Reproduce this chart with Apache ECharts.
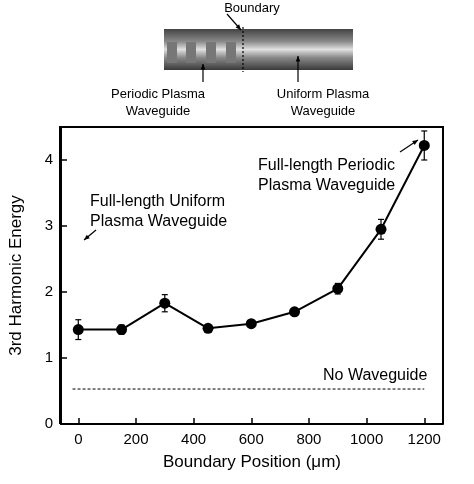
<!DOCTYPE html>
<html><head><meta charset="utf-8">
<script src="https://cdn.jsdelivr.net/npm/echarts@6/dist/echarts.min.js"></script>
<style>html,body{margin:0;background:#fff}#c{width:474px;height:484px}</style>
</head><body><div id="c"></div>
<script>
var positions = [0, 150, 300, 450, 600, 750, 900, 1050, 1200];
var energy = [1.43, 1.43, 1.83, 1.45, 1.52, 1.70, 2.05, 2.95, 4.22];
var errs = [0.15, 0.07, 0.13, 0.04, 0.05, 0.04, 0.08, 0.15, 0.22];
var xTicks = [0, 200, 400, 600, 800, 1000, 1200];
var noWaveguide = 0.53;
var font = 'Liberation Sans';

var chart = echarts.init(document.getElementById('c'));
var tubeGrad = new echarts.graphic.LinearGradient(0, 0, 0, 1, [
  {offset: 0, color: '#444'}, {offset: 0.3, color: '#888'},
  {offset: 0.5, color: '#e0e0e0'}, {offset: 0.7, color: '#888'}, {offset: 1, color: '#3a3a3a'}]);
var squares = [167, 186, 206, 226].map(function (x) {
  return {type: 'rect', shape: {x: x, y: 42, width: 10, height: 21}, style: {fill: '#777'}, z: 101};
});
function arrow(x1, y1, x2, y2) {
  var a = Math.atan2(y2 - y1, x2 - x1), s = 6;
  return [
    {type: 'line', shape: {x1: x1, y1: y1, x2: x2, y2: y2}, style: {stroke: '#000', lineWidth: 1.2}, z: 102},
    {type: 'polygon', shape: {points: [[x2, y2],
      [x2 - s * Math.cos(a - 0.4), y2 - s * Math.sin(a - 0.4)],
      [x2 - s * Math.cos(a + 0.4), y2 - s * Math.sin(a + 0.4)]]}, style: {fill: '#000'}, z: 102}];
}
function txt(x, y, t, size, align) {
  return {type: 'text', x: x, y: y, style: {text: t, font: size + 'px ' + font, fill: '#000', align: align || 'center', lineHeight: size + 4}, z: 102};
}
var graphics = [
  {type: 'rect', shape: {x: 164, y: 29, width: 189, height: 41}, style: {fill: tubeGrad}, z: 100}
].concat(squares).concat([
  {type: 'line', shape: {x1: 243, y1: 27, x2: 243, y2: 72}, style: {stroke: '#000', lineWidth: 1.2, lineDash: [2, 2]}, z: 102},
  txt(252, 0, 'Boundary', 13)
]).concat(arrow(227, 14, 241, 30)).concat(arrow(203, 82, 203, 64)).concat(arrow(298, 82, 298, 56)).concat([
  txt(158, 86, 'Periodic Plasma\nWaveguide', 13),
  txt(323, 86, 'Uniform Plasma\nWaveguide', 13),
  txt(90, 192, 'Full-length Uniform\nPlasma Waveguide', 16, 'left'),
  txt(258, 156, 'Full-length Periodic\nPlasma Waveguide', 16, 'left'),
  txt(323, 366, 'No Waveguide', 16, 'left'),
  {type: 'polyline', shape: {points: [[60, 424], [60, 127], [443, 127], [443, 424]]}, style: {stroke: '#000', lineWidth: 2, fill: null}, z: 50}
]).concat(arrow(96, 230, 84, 240)).concat(arrow(400, 152, 418, 140));

chart.setOption({
  animation: false,
  textStyle: {fontFamily: font},
  grid: {left: 60, right: 31, top: 127, bottom: 60},
  xAxis: {
    type: 'value', min: -60, max: 1265,
    name: 'Boundary Position (\u03bcm)', nameLocation: 'middle', nameGap: 30,
    nameTextStyle: {fontSize: 17, color: '#000'},
    axisLine: {lineStyle: {color: '#000', width: 2}},
    axisTick: {inside: true, length: 6, customValues: xTicks, lineStyle: {color: '#000', width: 1.5}},
    axisLabel: {fontSize: 15, color: '#000', customValues: xTicks, formatter: function (v) { return String(v); }},
    splitLine: {show: false}
  },
  yAxis: {
    type: 'value', min: 0, max: 4.5, interval: 1,
    name: '3rd Harmonic Energy', nameLocation: 'middle', nameGap: 36,
    nameTextStyle: {fontSize: 17, color: '#000'},
    axisLine: {onZero: false, lineStyle: {color: '#000', width: 2}},
    axisTick: {inside: true, length: 6, lineStyle: {color: '#000', width: 1.5}},
    axisLabel: {fontSize: 15, color: '#000', showMaxLabel: false},
    splitLine: {show: false}
  },
  graphic: graphics,
  series: [
    {type: 'line', data: positions.map(function (x, i) { return [x, energy[i]]; }),
      symbol: 'circle', symbolSize: 11, lineStyle: {color: '#000', width: 2},
      itemStyle: {color: '#000'}, z: 3},
    {type: 'custom', z: 2,
      data: positions.map(function (x, i) { return [x, energy[i] - errs[i], energy[i] + errs[i]]; }),
      renderItem: function (p, api) {
        var lo = api.coord([api.value(0), api.value(1)]), hi = api.coord([api.value(0), api.value(2)]);
        var st = {stroke: '#000', lineWidth: 1.2};
        return {type: 'group', children: [
          {type: 'line', shape: {x1: lo[0], y1: lo[1], x2: hi[0], y2: hi[1]}, style: st},
          {type: 'line', shape: {x1: lo[0] - 3, y1: lo[1], x2: lo[0] + 3, y2: lo[1]}, style: st},
          {type: 'line', shape: {x1: hi[0] - 3, y1: hi[1], x2: hi[0] + 3, y2: hi[1]}, style: st}]};
      }},
    {type: 'line', data: [[-20, noWaveguide], [1200, noWaveguide]], symbol: 'none',
      lineStyle: {color: '#000', width: 1, type: [3, 2]}}
  ]
});
</script></body></html>
